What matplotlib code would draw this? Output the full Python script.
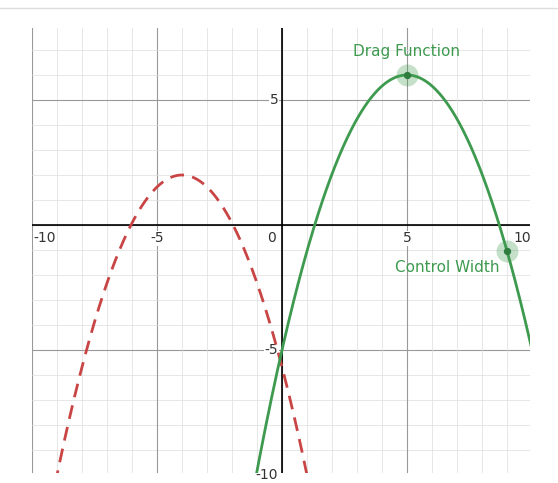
import numpy as np
import matplotlib.pyplot as plt

# parabola parameters
green_vertex = (5, 6)
green_a = -0.44
red_vertex = (-4, 2)
red_a = -0.48
handle_pts = [(5, 6), (9, 6 - 0.44 * 16)]
xticks = [-10, -5, 5, 10]
yticks = [5, -5, -10]

fig = plt.figure(figsize=(5.58, 4.83), dpi=100)
fig.add_artist(plt.Line2D([0, 1], [0.983, 0.983], color='#dddddd', lw=1))
ax = fig.add_axes([32 / 558, 10 / 483, 498 / 558, 445 / 483])
ax.set_xlim(-10, 9.92)
ax.set_ylim(-9.92, 7.88)

for v in range(-10, 11):
    lw, c = (0.8, '#999999') if v % 5 == 0 else (0.5, '#dddddd')
    ax.axvline(v, color=c, lw=lw, zorder=0)
    ax.axhline(v, color=c, lw=lw, zorder=0)
ax.axhline(0, color='black', lw=1.2, zorder=1)
ax.axvline(0, color='black', lw=1.2, zorder=1)
for s in ax.spines.values():
    s.set_visible(False)
ax.set_xticks([])
ax.set_yticks([])

box = dict(facecolor='white', edgecolor='none', pad=0.5)
shift = {-10: 0.5, 10: -0.4}
for t in xticks:
    ax.text(t + shift.get(t, 0), -0.25, str(t), ha='center', va='top', fontsize=10,
            color='#333333', bbox=box)
ax.text(-0.25, -0.25, '0', ha='right', va='top', fontsize=10, color='#333333', bbox=box)
for t in yticks:
    ax.text(-0.15, t, str(t), ha='right', va='center', fontsize=10, color='#333333', bbox=box)

x = np.linspace(-10, 10, 600)
gy = green_a * (x - green_vertex[0]) ** 2 + green_vertex[1]
ry = red_a * (x - red_vertex[0]) ** 2 + red_vertex[1]
ax.plot(x, ry, color='#c94545', lw=2, ls=(0, (5, 3)), zorder=3)
ax.plot(x, gy, color='#3d9a4f', lw=2, zorder=3)

for px, py in handle_pts:
    ax.scatter(px, py, s=250, color='#3d9a4f', alpha=0.3, lw=0, zorder=4)
    ax.scatter(px, py, s=18, color='#2e7d3f', zorder=5)

ax.text(5, 6.65, 'Drag Function', ha='center', va='bottom', fontsize=11, color='#3d9a4f')
ax.text(6.6, -1.4, 'Control Width', ha='center', va='top', fontsize=11, color='#3d9a4f')

fig.savefig('out.png', dpi=100)
